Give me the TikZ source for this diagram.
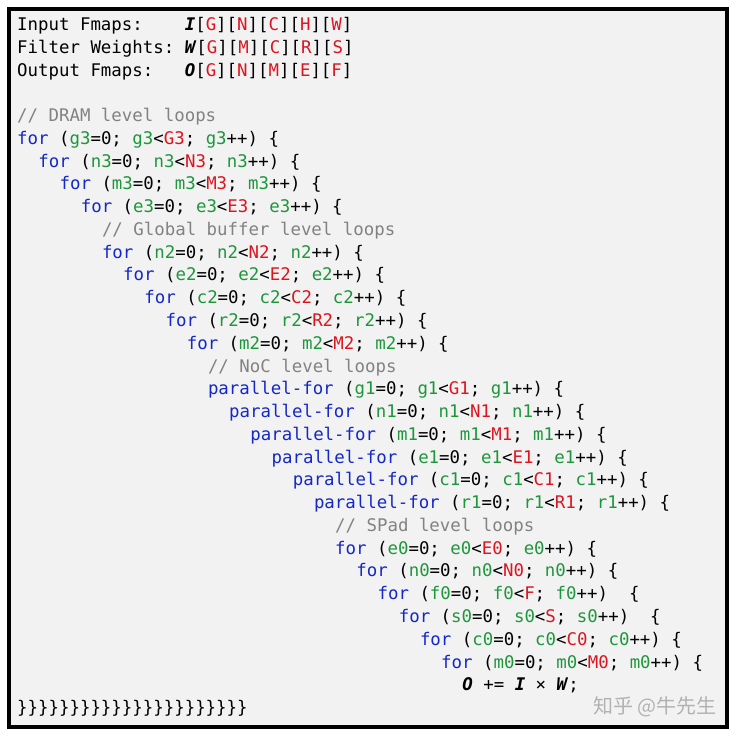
\documentclass[tikz,border=0pt]{standalone}
\usepackage{fontspec}
\setmonofont{DejaVu Sans Mono}
\newfontfamily\cjk{Noto Sans CJK SC}
\definecolor{kwc}{RGB}{20,40,200}
\definecolor{vrc}{RGB}{30,150,60}
\definecolor{bdc}{RGB}{220,20,30}
\definecolor{cmc}{RGB}{130,130,130}
\definecolor{bgc}{RGB}{242,242,242}
\newcommand\kw[1]{\textcolor{kwc}{#1}}
\newcommand\vr[1]{\textcolor{vrc}{#1}}
\newcommand\bd[1]{\textcolor{bdc}{#1}}
\newcommand\cm[1]{\textcolor{cmc}{#1}}
\newcommand\bi[1]{\textbf{\textit{#1}}}
\newcommand\lp[4]{\kw{#1} (\vr{#2}=0; \vr{#2}<\bd{#3}; \vr{#2}++)#4\{}
\newcommand\Ln[3]{\node[ln] (l#1) at ({17+#2*10.6},{-(30.5+#1*22.77)}) {#3};}
\begin{document}
\begin{tikzpicture}[x=1pt,y=1pt,
  ln/.style={anchor=base west,inner sep=0pt,font=\ttfamily\fontsize{17.4}{20}\selectfont}]
\useasboundingbox (0,0) rectangle (736,-736);
\fill[white] (0,0) rectangle (736,-736);
\draw[line width=4pt,fill=bgc] (9,-9) rectangle (727,-727);
\Ln{0}{0}{Input Fmaps:\ \ \ \ \bi{I}[\bd{G}][\bd{N}][\bd{C}][\bd{H}][\bd{W}]}
\Ln{1}{0}{Filter Weights: \bi{W}[\bd{G}][\bd{M}][\bd{C}][\bd{R}][\bd{S}]}
\Ln{2}{0}{Output Fmaps:\ \ \ \bi{O}[\bd{G}][\bd{N}][\bd{M}][\bd{E}][\bd{F}]}
\Ln{4}{0}{\cm{// DRAM level loops}}
\Ln{5}{0}{\lp{for}{g3}{G3}{ }}
\Ln{6}{2}{\lp{for}{n3}{N3}{ }}
\Ln{7}{4}{\lp{for}{m3}{M3}{ }}
\Ln{8}{6}{\lp{for}{e3}{E3}{ }}
\Ln{9}{8}{\cm{// Global buffer level loops}}
\Ln{10}{8}{\lp{for}{n2}{N2}{ }}
\Ln{11}{10}{\lp{for}{e2}{E2}{ }}
\Ln{12}{12}{\lp{for}{c2}{C2}{ }}
\Ln{13}{14}{\lp{for}{r2}{R2}{ }}
\Ln{14}{16}{\lp{for}{m2}{M2}{ }}
\Ln{15}{18}{\cm{// NoC level loops}}
\Ln{16}{18}{\lp{parallel-for}{g1}{G1}{ }}
\Ln{17}{20}{\lp{parallel-for}{n1}{N1}{ }}
\Ln{18}{22}{\lp{parallel-for}{m1}{M1}{ }}
\Ln{19}{24}{\lp{parallel-for}{e1}{E1}{ }}
\Ln{20}{26}{\lp{parallel-for}{c1}{C1}{ }}
\Ln{21}{28}{\lp{parallel-for}{r1}{R1}{ }}
\Ln{22}{30}{\cm{// SPad level loops}}
\Ln{23}{30}{\lp{for}{e0}{E0}{ }}
\Ln{24}{32}{\lp{for}{n0}{N0}{ }}
\Ln{25}{34}{\lp{for}{f0}{F}{\ \ }}
\Ln{26}{36}{\lp{for}{s0}{S}{\ \ }}
\Ln{27}{38}{\lp{for}{c0}{C0}{ }}
\Ln{28}{40}{\lp{for}{m0}{M0}{ }}
\Ln{29}{42}{\bi{O} += \bi{I} × \bi{W};}
\Ln{30}{0}{\}\}\}\}\}\}\}\}\}\}\}\}\}\}\}\}\}\}\}\}\}\}}
\node[anchor=base east,inner sep=0pt,text=black!30,font=\cjk\fontsize{20}{22}\selectfont] (wm) at (717,-713) {知乎 @牛先生};
\end{tikzpicture}
\end{document}
